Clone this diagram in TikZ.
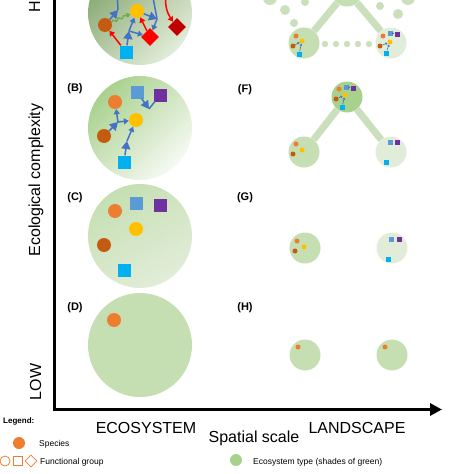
\documentclass[tikz,border=0pt]{standalone}
\usepackage{fontspec}
\setmainfont{Liberation Sans}
\usepackage{xcolor}
\usepackage{tikz}
\usetikzlibrary{arrows.meta, positioning, shapes.geometric, decorations.pathmorphing}
\definecolor{spOrange}{HTML}{ED7D31}
\definecolor{spBrown}{HTML}{C55A11}
\definecolor{spYellow}{HTML}{FFC000}
\definecolor{fgCyan}{HTML}{00B0F0}
\definecolor{fgBlue}{HTML}{5B9BD5}
\definecolor{fgPurple}{HTML}{7030A0}
\definecolor{fgRed}{HTML}{FF0000}
\definecolor{fgDarkRed}{HTML}{C00000}
\definecolor{linkBlue}{HTML}{4472C4}
\definecolor{linkGreen}{HTML}{70AD47}
\definecolor{ecoGreen}{HTML}{C5DFB2}
\definecolor{ecoPale}{HTML}{E2EDD9}
\definecolor{ecoDark}{HTML}{A9D18E}
\definecolor{corridor}{HTML}{CADFBC}

\begin{document}
\begin{tikzpicture}[
    x=1pt, y=-1pt,
    font=\fontsize{16}{19}\selectfont,
    ecobig/.style={circle, inner sep=0pt, minimum size=104pt},
    ecosmall/.style={circle, inner sep=0pt, minimum size=31pt, fill=ecoGreen},
    species/.style={circle, inner sep=0pt, minimum size=14pt},
    fgsq/.style={rectangle, inner sep=0pt, minimum size=13pt},
    fgdia/.style={diamond, inner sep=0pt, minimum size=18pt},
    minisp/.style={circle, inner sep=0pt, minimum size=5pt},
    minisq/.style={rectangle, inner sep=0pt, minimum size=5pt},
    link/.style={draw=linkBlue, line width=1.5pt, -{Triangle[length=5pt, width=6pt]}},
    hublink/.style={draw=linkBlue, line width=1.5pt, -{Triangle[length=8pt, width=9pt]}},
    redlink/.style={draw=fgRed, line width=1.5pt, -{Triangle[length=5pt, width=6pt]}},
    minilink/.style={draw=linkBlue, line width=0.6pt, -{Triangle[length=2pt, width=2.5pt]}},
    corridorline/.style={draw=corridor, line width=7pt},
    axis/.style={line width=3pt, draw=black, -{Triangle[length=12pt, width=12pt]}},
    panel/.style={font=\bfseries\fontsize{11}{13}\selectfont},
    legendtext/.style={font=\fontsize{8.5}{10}\selectfont, anchor=west, inner sep=0pt}
  ]
    \useasboundingbox (0,0) rectangle (474,474);
    \clip (0,0) rectangle (474,474);

    % axes
    \coordinate (ytop) at (54,-10);
    \coordinate (origin) at (54,409.5);
    \coordinate (xend) at (442,409.5);
    \draw[axis, line join=miter] (ytop) -- (origin) -- (xend);

    \node[rotate=90, anchor=base west] (high) at (40,16) {HIGH};
    \node[rotate=90, anchor=base] (complexity) at (40,180) {Ecological complexity};
    \node[rotate=90, anchor=base] (low) at (41,382) {LOW};
    \node[anchor=base] (ecosystem) at (146,433) {ECOSYSTEM};
    \node[anchor=base] (spatial) at (254,442) {Spatial scale};
    \node[anchor=base] (landscape) at (357,433) {LANDSCAPE};

    % ecosystem column
    \node[ecobig, left color=black!20!ecoDark, right color=ecoPale, shading angle=45] (ecoA) at (140,13) {};
    \node[ecobig, left color=ecoDark, right color=white!70!ecoPale, shading angle=45] (ecoB) at (140,128) {};
    \node[ecobig, left color=ecoGreen, right color=ecoPale, shading angle=30] (ecoC) at (140,236) {};
    \node[ecobig, fill=ecoGreen] (ecoD) at (140,345) {};

    \node[panel] (labB) at (75,89) {(B)};
    \node[panel] (labC) at (75,198) {(C)};
    \node[panel] (labD) at (75,308) {(D)};
    \node[panel] (labF) at (245,90) {(F)};
    \node[panel] (labG) at (245,198) {(G)};
    \node[panel] (labH) at (245,308) {(H)};

    % (A)
    \node[species, fill=spBrown] (aBrown) at (105,25) {};
    \node[species, fill=spYellow] (aYellow) at (137,11) {};
    \node[fgsq, fill=fgCyan] (aCyan) at (126,52) {};
    \node[fgdia, fill=fgRed] (aRed) at (150,37) {};
    \node[fgdia, fill=fgDarkRed] (aDarkRed) at (177,27) {};
    \coordinate (aHub1) at (129,31);
    \coordinate (aHub2) at (157,19);
    \coordinate (aHub3) at (118,10);
    \coordinate (aTopL) at (117,-8);
    \coordinate (aTopM) at (152,-8);
    \coordinate (aTopR) at (166,-8);
    \draw[hublink] (aCyan) -- (aHub1);
    \draw[link] (aHub1) -- (aRed);
    \draw[link] (aHub1) -- (aYellow);
    \draw[hublink] (aYellow) -- (aHub2);
    \draw[link] (aHub2) -- (aTopM);
    \draw[link] (aHub2) -- (aRed);
    \draw[hublink] (aBrown) -- (aHub3);
    \draw[link] (aHub3) -- (aTopL);
    \draw[redlink] (aCyan) -- (aBrown);
    \draw[redlink] (aRed) -- (aYellow);
    \draw[redlink] (aTopR) to[bend right=20] (aDarkRed);
    \draw[draw=linkGreen, line width=1.3pt, -{Triangle[length=4pt, width=5pt]},
          decorate, decoration={snake, amplitude=1.2pt, segment length=6pt, post length=4pt}]
          (aBrown) -- (aYellow);

    % (B)
    \node[species, fill=spOrange] (bOrange) at (115,102) {};
    \node[fgsq, fill=fgBlue] (bBlue) at (137,92) {};
    \node[fgsq, fill=fgPurple] (bPurple) at (160,95) {};
    \node[species, fill=spYellow] (bYellow) at (136,120) {};
    \node[species, fill=spBrown] (bBrown) at (104,136) {};
    \node[fgsq, fill=fgCyan] (bCyan) at (124,162) {};
    \coordinate (bHub1) at (149,109);
    \coordinate (bHub2) at (118,122);
    \coordinate (bHub3) at (127,141);
    \draw[hublink] (bBlue) -- (bHub1);
    \draw[draw=linkBlue, line width=1.5pt] (bHub1) -- (bPurple);
    \draw[hublink] (bBrown) -- (bHub2);
    \draw[link] (bHub2) -- (bOrange);
    \draw[link] (bHub2) -- (bYellow);
    \draw[hublink] (bCyan) -- (bHub3);
    \draw[link] (bHub3) -- (bYellow);

    % (C)
    \node[species, fill=spOrange] (cOrange) at (115,211) {};
    \node[fgsq, fill=fgBlue] (cBlue) at (136,203) {};
    \node[fgsq, fill=fgPurple] (cPurple) at (160,205) {};
    \node[species, fill=spYellow] (cYellow) at (136,229) {};
    \node[species, fill=spBrown] (cBrown) at (104,245) {};
    \node[fgsq, fill=fgCyan] (cCyan) at (124,270) {};

    % (D)
    \node[species, fill=spOrange] (dOrange) at (114,320) {};

    % (E) landscape
    \node[ecosmall] (eTop) at (347,-9) {};
    \node[ecosmall] (eLeft) at (304,43) {};
    \node[ecosmall, fill=ecoPale] (eRight) at (391,43) {};
    \draw[corridorline] (eTop) -- (eLeft);
    \draw[corridorline] (eTop) -- (eRight);
    \foreach \k in {0,...,4}
      \fill[corridor] (325+11*\k,44) circle (3.2pt);
    \fill[corridor] (294,23) circle (4pt);
    \fill[corridor] (285,10) circle (5pt);
    \fill[corridor] (305,2) circle (4pt);
    \fill[corridor] (270,-2) circle (7pt);
    \fill[corridor] (380,6) circle (4pt);
    \fill[corridor] (398,14) circle (5pt);
    \fill[corridor] (408,-2) circle (7pt);
    \node[minisp, fill=spOrange] (eLOrange) at (296,36) {};
    \node[minisp, fill=spBrown] (eLBrown) at (293,46) {};
    \node[minisp, fill=spYellow] (eLYellow) at (302,41) {};
    \node[minisq, fill=fgCyan] (eLCyan) at (299,54) {};
    \draw[minilink] (eLCyan) -- (eLYellow);
    \draw[minilink] (eLBrown) -- (eLYellow);
    \node[minisp, fill=spOrange] (eROrange) at (383,36) {};
    \node[minisq, fill=fgBlue] (eRBlue) at (390,33) {};
    \node[minisq, fill=fgPurple] (eRPurple) at (397,34) {};
    \node[minisp, fill=spYellow] (eRYellow) at (390,42) {};
    \node[minisp, fill=spBrown] (eRBrown) at (380,46) {};
    \node[minisq, fill=fgCyan] (eRCyan) at (386,53) {};
    \draw[minilink] (eRBlue) -- (eRPurple);
    \draw[minilink] (eRCyan) -- (eRYellow);
    \draw[minilink] (eRBrown) -- (eRYellow);

    % (F)
    \node[ecosmall, fill=ecoDark] (fTop) at (347,97) {};
    \node[ecosmall] (fLeft) at (304,152) {};
    \node[ecosmall, fill=ecoPale] (fRight) at (391,152) {};
    \draw[corridorline] (fTop) -- (fLeft);
    \draw[corridorline] (fTop) -- (fRight);
    \node[minisp, fill=spOrange] (fTOrange) at (339,89) {};
    \node[minisq, fill=fgBlue] (fTBlue) at (346,87) {};
    \node[minisq, fill=fgPurple] (fTPurple) at (353,88) {};
    \node[minisp, fill=spYellow] (fTYellow) at (345,95) {};
    \node[minisp, fill=spBrown] (fTBrown) at (336,99) {};
    \node[minisq, fill=fgCyan] (fTCyan) at (342,107) {};
    \draw[minilink] (fTBlue) -- (fTPurple);
    \draw[minilink] (fTCyan) -- (fTYellow);
    \draw[minilink] (fTBrown) -- (fTYellow);
    \node[minisp, fill=spOrange] (fLOrange) at (296,144) {};
    \node[minisp, fill=spBrown] (fLBrown) at (293,154) {};
    \node[minisp, fill=spYellow] (fLYellow) at (302,150) {};
    \node[minisq, fill=fgBlue] (fRBlue) at (390,142) {};
    \node[minisq, fill=fgPurple] (fRPurple) at (397,142) {};
    \node[minisq, fill=fgCyan] (fRCyan) at (386,162) {};

    % (G)
    \node[ecosmall] (gLeft) at (305,248) {};
    \node[ecosmall, fill=ecoPale] (gRight) at (392,248) {};
    \node[minisp, fill=spOrange] (gLOrange) at (297,241) {};
    \node[minisp, fill=spBrown] (gLBrown) at (295,251) {};
    \node[minisp, fill=spYellow] (gLYellow) at (304,247) {};
    \node[minisq, fill=fgBlue] (gRBlue) at (391,239) {};
    \node[minisq, fill=fgPurple] (gRPurple) at (399,239) {};
    \node[minisq, fill=fgCyan] (gRCyan) at (388,259) {};

    % (H)
    \node[ecosmall] (hLeft) at (305,355) {};
    \node[ecosmall] (hRight) at (392,355) {};
    \node[minisp, fill=spOrange] (hLOrange) at (298,347) {};
    \node[minisp, fill=spOrange] (hROrange) at (385,347) {};

    % legend
    \node[font=\bfseries\fontsize{8}{10}\selectfont, anchor=base west, inner sep=0pt] (legTitle) at (3,423) {Legend:};
    \node[species, fill=spOrange, minimum size=12pt] (legSpecies) at (19,443) {};
    \node[legendtext] (legSpeciesText) at (39,444) {Species};
    \node[circle, draw=spOrange, line width=0.8pt, minimum size=10pt, inner sep=0pt] (legCircle) at (5,461) {};
    \node[rectangle, draw=spOrange, line width=0.8pt, minimum size=9pt, inner sep=0pt] (legSquare) at (18,461) {};
    \node[diamond, draw=spOrange, line width=0.8pt, minimum size=12pt, inner sep=0pt] (legDiamond) at (31,461) {};
    \node[legendtext] (legGroupText) at (40,462) {Functional group};
    \node[circle, fill=ecoDark, minimum size=12pt, inner sep=0pt] (legEco) at (236,460) {};
    \node[legendtext] (legEcoText) at (253,462) {Ecosystem type (shades of green)};
\end{tikzpicture}
\end{document}
